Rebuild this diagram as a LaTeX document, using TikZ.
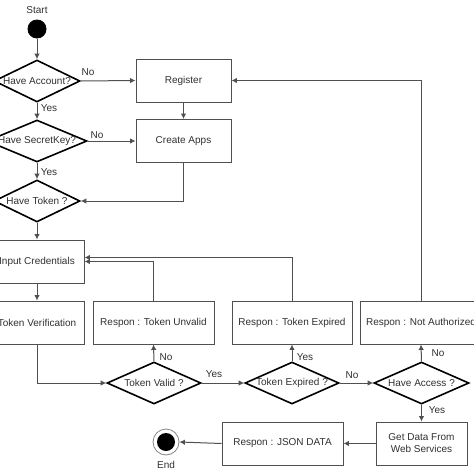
\documentclass[tikz,border=0pt]{standalone}
\usepackage{fontspec}
\setmainfont{Liberation Sans}
\usetikzlibrary{shapes.geometric,arrows.meta}
\definecolor{ln}{HTML}{505050}
\definecolor{tx}{HTML}{303030}
\begin{document}
\begin{tikzpicture}[x=1pt,y=-1pt,font=\fontsize{10}{12}\selectfont,
  every label/.style={text=tx,inner sep=0pt},
  box/.style={draw=ln,line width=0.9pt,rectangle,minimum height=43pt,inner sep=0pt,text=tx},
  dia/.style={draw=black,line width=1.6pt,diamond,minimum height=42pt,inner sep=0pt,text=tx},
  arr/.style={draw=ln,line width=1pt,-{Latex[length=5.5pt,width=5.5pt]}},
  lbl/.style={text=tx,inner sep=0pt}]
\useasboundingbox (0,0) rectangle (474,474);
\clip (0,0) rectangle (474,474);
% start
\node[circle,fill=black,minimum size=19pt,inner sep=0pt] (st) at (37,29) {};
\node[lbl] (stl) at (37,10) {Start};
% left column
\node[dia,minimum width=86pt,label={center:Have Account?}] (ha) at (37,81) {};
\node[dia,minimum width=100pt,label={center:Have SecretKey?}] (hs) at (37,141) {};
\node[dia,minimum width=86pt,label={center:Have Token ?}] (ht) at (37,201) {};
\node[box,minimum width=94pt] (ic) at (37,261.5) {Input Credentials};
\node[box,minimum width=94pt] (tv) at (37,322.5) {Token Verification};
% right boxes
\node[box,minimum width=95pt] (reg) at (183.5,80.5) {Register};
\node[box,minimum width=95pt] (ca) at (183.5,141) {Create Apps};
\node[box,minimum width=121pt] (tu) at (153.5,322.5) {Respon : Token Unvalid};
\node[box,minimum width=120pt] (te) at (292,322.5) {Respon : Token Expired};
\node[box,minimum width=122pt] (na) at (421,322.5) {Respon : Not Authorized};
% decisions row
\node[dia,minimum width=94pt,label={center:Token Valid ?}] (tvd) at (154,383) {};
\node[dia,minimum width=94pt,label={center:Token Expired ?}] (ted) at (292,383) {};
\node[dia,minimum width=95pt,label={center:Have Access ?}] (had) at (421.5,383) {};
% bottom row
\node[box,minimum width=91pt,align=center] (gd) at (421.5,443.5) {Get Data From\\Web Services};
\node[box,minimum width=121pt] (js) at (282.5,443.5) {Respon : JSON DATA};
\node[circle,draw=ln!70,line width=0.8pt,minimum size=26pt,inner sep=0pt] (en) at (166,442) {};
\node[circle,fill=black,minimum size=18pt,inner sep=0pt] (eni) at (166,442) {};
\node[lbl] (enl) at (166,465) {End};
% connectors
\draw[arr] (st) -- (ha);
\draw[arr] (ha) -- (hs);
\draw[arr] (hs) -- (ht);
\draw[arr] (ht) -- (ic);
\draw[arr] (ic) -- (tv);
\draw[arr] (ha.east) -- (reg.west);
\draw[arr] (hs.east) -- (ca.west);
\draw[arr] (reg) -- (ca);
\draw[arr] (ca.south) |- (ht.east);
\draw[arr] (tv.south) |- (tvd.west);
\draw[arr] (tvd.north) -- (tu.south);
\draw[arr] (tu.north) |- (ic.east);
\draw[arr] (tvd.east) -- (ted.west);
\draw[arr] (ted.north) -- (te.south);
\draw[arr] (te.north) |- ([yshift=4pt]ic.east);
\draw[arr] (ted.east) -- (had.west);
\draw[arr] (had.north) -- (na.south);
\draw[arr] (na.north) |- (reg.east);
\draw[arr] (had.south) -- (gd.north);
\draw[arr] (gd.west) -- (js.east);
\draw[arr] (js.west) -- (en.east);
% labels
\node[lbl] (l1) at (88,72) {No};
\node[lbl] (l2) at (49,108) {Yes};
\node[lbl] (l3) at (97,135) {No};
\node[lbl] (l4) at (49,172) {Yes};
\node[lbl] (l5) at (166,357) {No};
\node[lbl] (l6) at (214,374) {Yes};
\node[lbl] (l7) at (305,357) {Yes};
\node[lbl] (l8) at (352,375) {No};
\node[lbl] (l9) at (438,353) {No};
\node[lbl] (l10) at (437,410) {Yes};
\end{tikzpicture}
\end{document}
